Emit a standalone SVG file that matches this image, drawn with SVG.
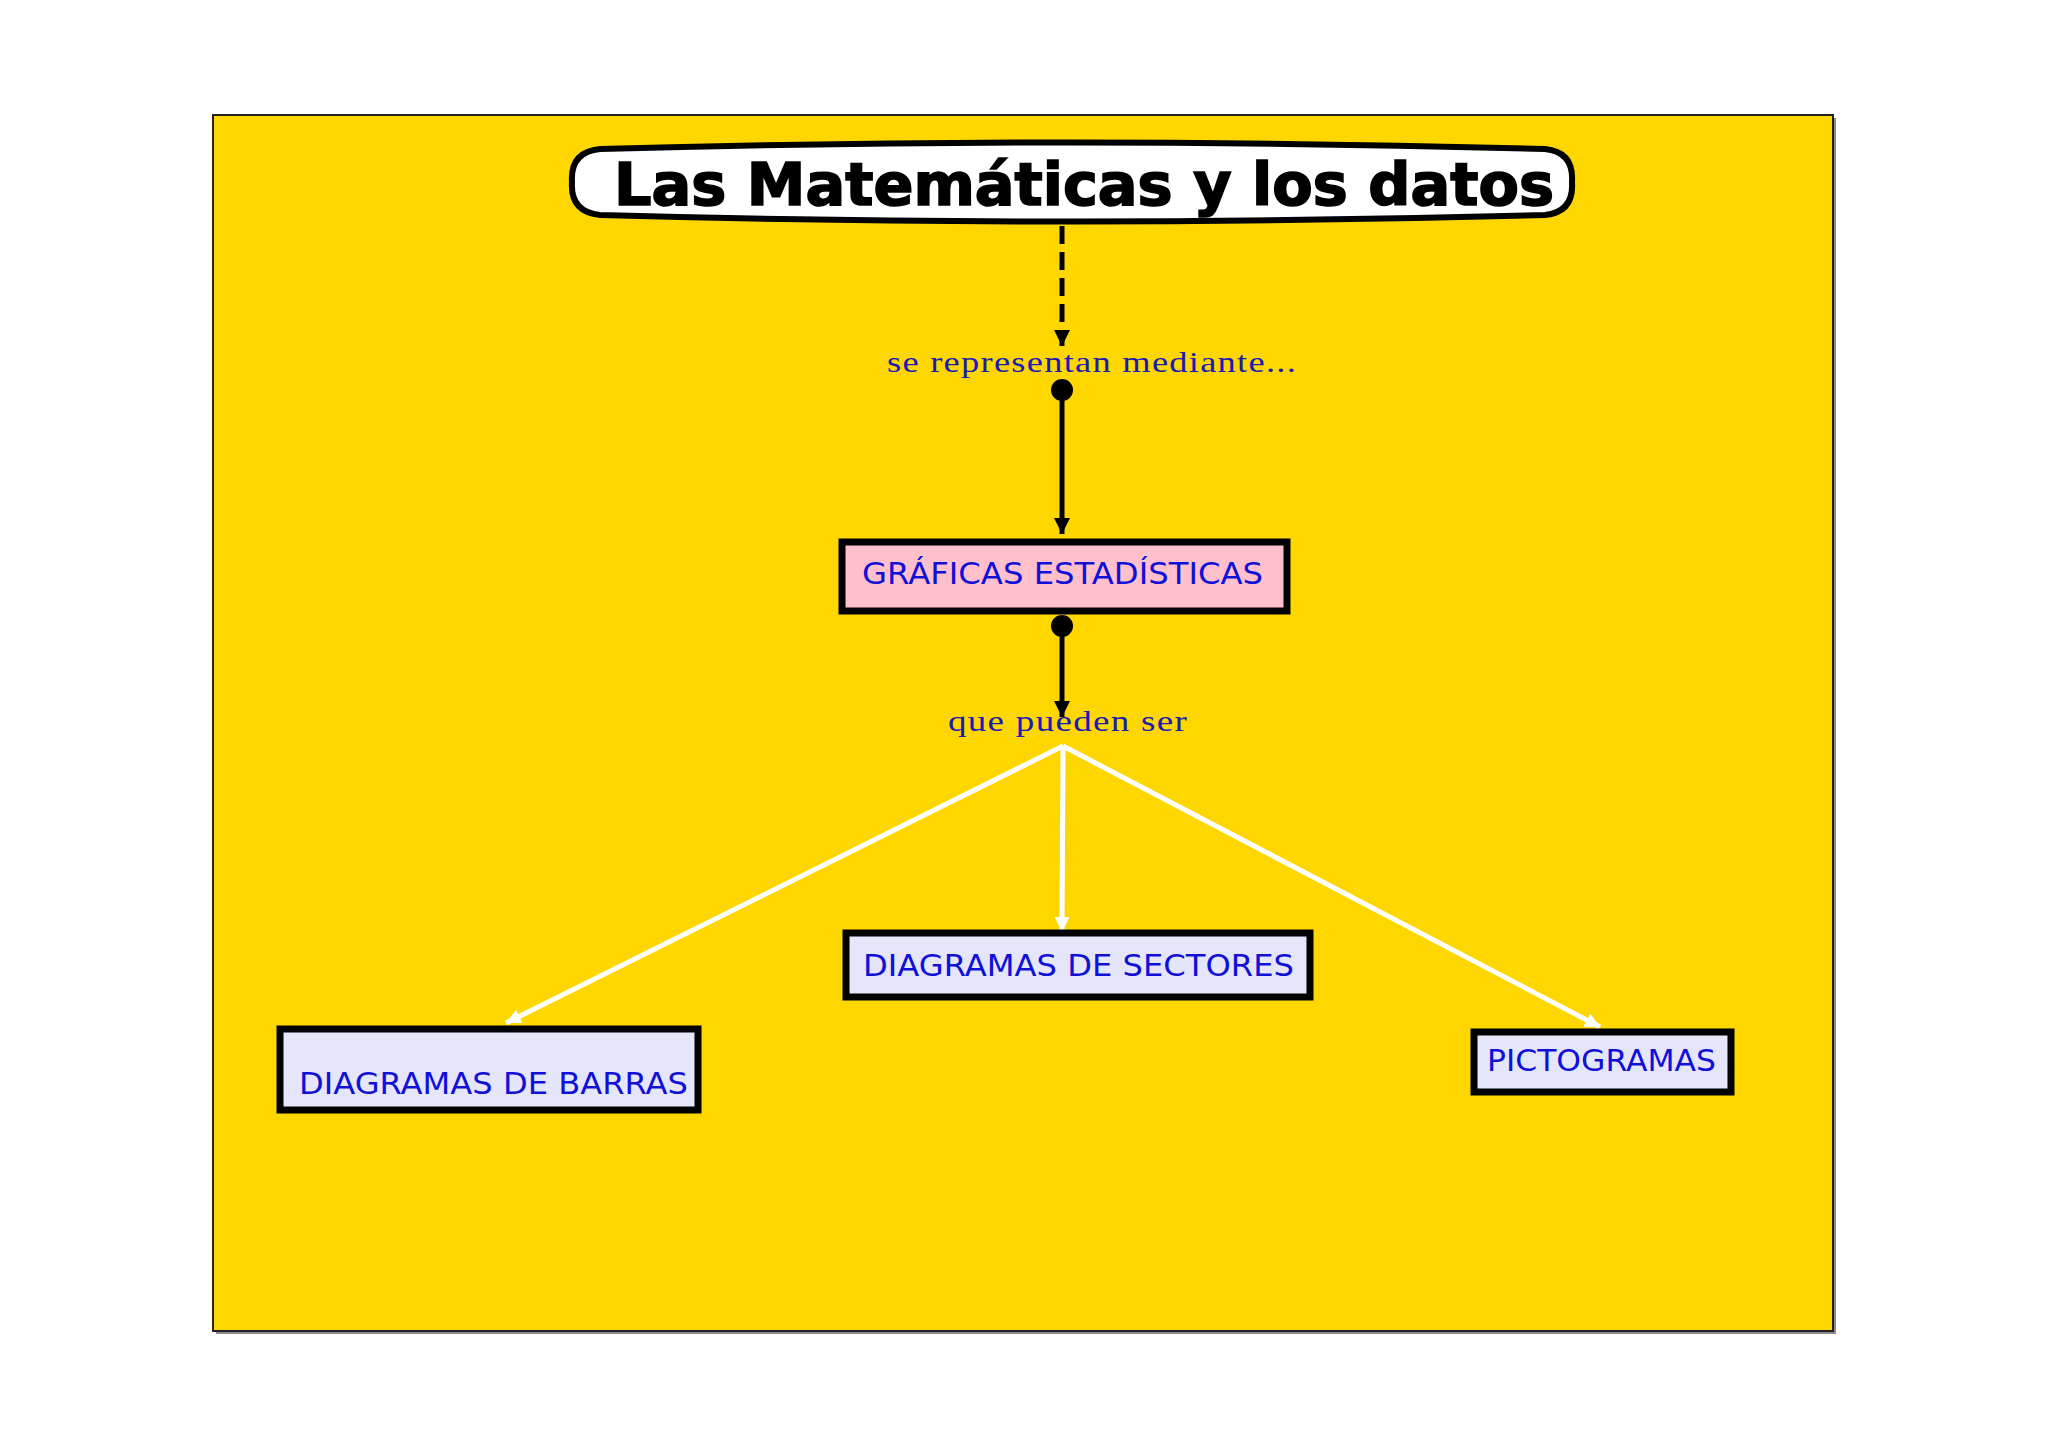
<svg xmlns="http://www.w3.org/2000/svg" width="2048" height="1447" viewBox="0 0 2048 1447">
<defs>
<style>
.box{stroke:#000;stroke-width:7}
.lbl{font-family:"DejaVu Sans","Liberation Sans",sans-serif;font-weight:normal;font-size:30px;fill:#1010d8}
.link{font-family:"Liberation Serif","DejaVu Serif",serif;font-size:29px;fill:#1a1ab4;letter-spacing:1px}
.blk{stroke:#000;stroke-width:5;fill:none}
.wht{stroke:#fff;stroke-width:5;fill:none}
</style>
<marker id="ab" viewBox="0 0 10 10" refX="10" refY="5" markerWidth="16" markerHeight="16" markerUnits="userSpaceOnUse" orient="auto"><path d="M0,0 L10,5 L0,10 Z" fill="#000"/></marker>
<marker id="aw" viewBox="0 0 10 10" refX="10" refY="5" markerWidth="15" markerHeight="15" markerUnits="userSpaceOnUse" orient="auto"><path d="M0,0 L10,5 L0,10 Z" fill="#fff"/></marker>
</defs>
<rect width="2048" height="1447" fill="#fff"/>
<rect x="216" y="118" width="1620" height="1216" fill="#8a8a8a"/>
<rect x="213" y="115" width="1620" height="1216" fill="#FFD700" stroke="#222" stroke-width="2"/>
<g id="connectors">
<line class="blk" x1="1062" y1="226" x2="1062" y2="346" stroke-width="7" stroke-dasharray="18,8" marker-end="url(#ab)"/>
<circle cx="1062" cy="390" r="11" fill="#000"/>
<line class="blk" x1="1062" y1="390" x2="1062" y2="534" marker-end="url(#ab)"/>
<circle cx="1062" cy="626" r="11" fill="#000"/>
<line class="blk" x1="1062" y1="626" x2="1062" y2="717" marker-end="url(#ab)"/>
<line class="wht" x1="1063" y1="746" x2="506" y2="1023" marker-end="url(#aw)"/>
<line class="wht" x1="1063" y1="746" x2="1062" y2="932" marker-end="url(#aw)"/>
<line class="wht" x1="1063" y1="746" x2="1600" y2="1027" marker-end="url(#aw)"/>
</g>
<g id="title">
<path d="M572,182 Q570,152 600,149 Q1070,136 1545,149 Q1574,152 1572,182 Q1574,212 1545,215 Q1070,228 600,215 Q570,212 572,182 Z" fill="#fff" stroke="#000" stroke-width="6"/>
<text x="614" y="205" font-family="DejaVu Sans" font-stretch="condensed" font-weight="900" font-size="58" textLength="940" lengthAdjust="spacingAndGlyphs" fill="#000" stroke="#000" stroke-width="1.5">Las Matemáticas y los datos</text>
</g>
<g id="label1"><text class="link" x="887" y="372" textLength="410" lengthAdjust="spacingAndGlyphs">se representan mediante...</text></g>
<g id="graficas">
<rect class="box" x="842" y="542" width="445" height="69" fill="#FFC0CB"/>
<text class="lbl" x="862" y="584" textLength="401" lengthAdjust="spacingAndGlyphs">GRÁFICAS ESTADÍSTICAS</text>
</g>
<g id="label2"><text class="link" x="948" y="731" textLength="240" lengthAdjust="spacingAndGlyphs">que pueden ser</text></g>
<g id="sectores">
<rect class="box" x="846" y="933" width="464" height="64" fill="#E6E6FA"/>
<text class="lbl" x="863" y="976" textLength="431" lengthAdjust="spacingAndGlyphs">DIAGRAMAS DE SECTORES</text>
</g>
<g id="barras">
<rect class="box" x="280" y="1029" width="418" height="81" fill="#E6E6FA"/>
<text class="lbl" x="299" y="1094" textLength="389" lengthAdjust="spacingAndGlyphs">DIAGRAMAS DE BARRAS</text>
</g>
<g id="pictogramas">
<rect class="box" x="1474" y="1032" width="257" height="60" fill="#E6E6FA"/>
<text class="lbl" x="1487" y="1071" textLength="229" lengthAdjust="spacingAndGlyphs">PICTOGRAMAS</text>
</g>
</svg>
